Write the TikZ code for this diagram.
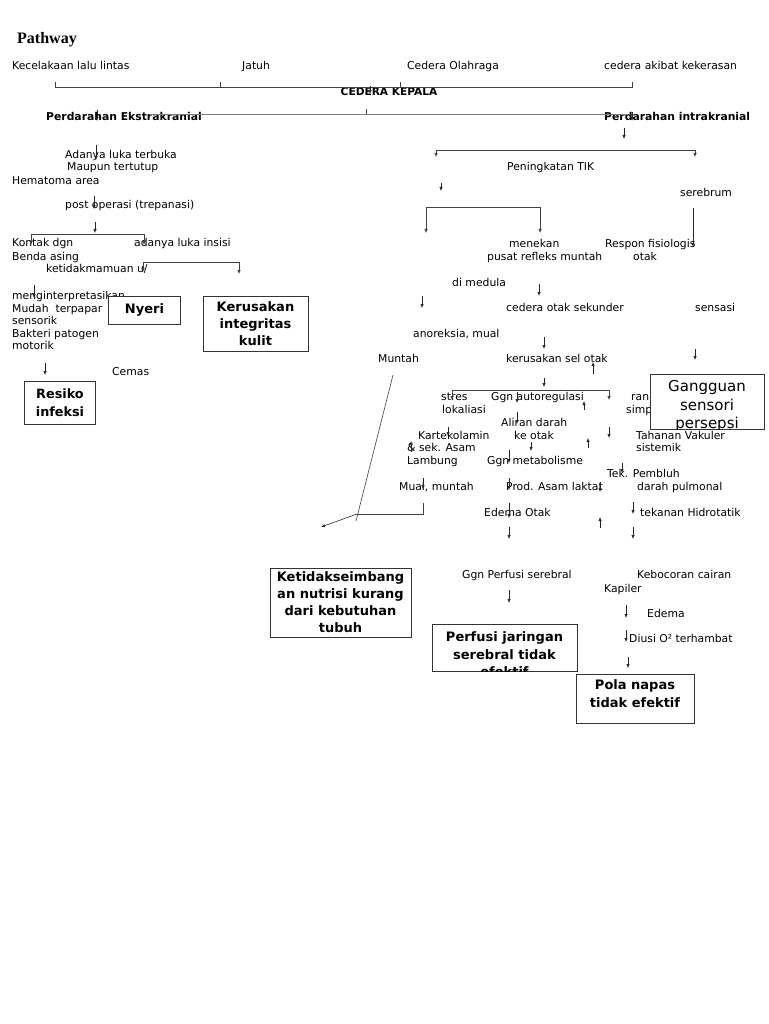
\documentclass[tikz,border=0pt]{standalone}
\usepackage{fontspec}
\setmainfont{DejaVu Sans}
\newfontfamily\titlefont{Liberation Serif}
\usetikzlibrary{arrows.meta}

\begin{document}
\begin{tikzpicture}[x=1pt, y=-1pt,
    txt/.style={anchor=base west, inner sep=0pt, yshift=-4.3pt, font=\fontsize{10.8}{12.5}\selectfont},
    head/.style={txt, font=\fontsize{10.8}{12.5}\selectfont\bfseries},
    box/.style={draw=black!80, line width=0.8pt, fill=white, align=center, inner sep=0pt,
        font=\fontsize{13}{17}\selectfont\bfseries},
    ln/.style={draw=black!75, line width=0.6pt},
    arr/.style={draw=black!85, line width=0.6pt, -{Latex[length=4pt,width=3.4pt]}},
    brk/.style={draw=black!75, line width=0.6pt,
        {Latex[length=4pt,width=3.4pt]}-{Latex[length=4pt,width=3.4pt]}}]
    \path[fill=white] (0,0) rectangle (768,1024);

    % title and causes
    \node[anchor=base west, inner sep=0pt, font=\titlefont\fontsize{16}{18}\selectfont\bfseries] (title) at (17,43.5) {Pathway};
    \node[txt] (kecelakaan) at (12,65) {Kecelakaan lalu lintas};
    \node[txt] (jatuh) at (242,65) {Jatuh};
    \node[txt] (olahraga) at (407,65) {Cedera Olahraga};
    \node[txt] (kekerasan) at (604,65) {cedera akibat kekerasan};
    \node[anchor=base, inner sep=0pt, font=\fontsize{10.6}{12}\selectfont\bfseries] (cedera) at (389,95.5) {CEDERA KEPALA};
    \node[head] (ekstra) at (46,116) {Perdarahan Ekstrakranial};
    \node[head] (intra) at (604,116) {Perdarahan intrakranial};

    % left branch
    \node[txt] (adanya) at (65,154) {Adanya luka terbuka};
    \node[txt] (maupun) at (67,166) {Maupun tertutup};
    \node[txt] (hematoma) at (12,180) {Hematoma area};
    \node[txt] (post) at (65,204) {post operasi (trepanasi)};
    \node[txt] (kontak) at (12,242) {Kontak dgn};
    \node[txt] (insisi) at (134,242) {adanya luka insisi};
    \node[txt] (benda) at (12,256) {Benda asing};
    \node[txt] (ketidak) at (46,268) {ketidakmamuan u/};
    \node[txt] (menginter) at (12,295) {menginterpretasikan};
    \node[txt] (mudah) at (12,308) {Mudah\ \ terpapar};
    \node[txt] (sensorik) at (12,320) {sensorik};
    \node[txt] (bakteri) at (12,333) {Bakteri patogen};
    \node[txt] (motorik) at (12,345) {motorik};
    \node[txt] (cemas) at (112,371) {Cemas};
    \node[box, minimum width=72, minimum height=28] (nyeri) at (144.5,310) {Nyeri};
    \node[box, minimum width=105, minimum height=55] (kulit) at (255.5,323.5) {Kerusakan\\integritas\\kulit};
    \node[box, minimum width=71, minimum height=43, font=\fontsize{12.8}{18}\selectfont\bfseries] (infeksi) at (60,403) {Resiko\\infeksi};

    % right branch
    \node[txt] (tik) at (507,166) {Peningkatan TIK};
    \node[txt] (serebrum) at (680,192) {serebrum};
    \node[txt] (menekan) at (509,243) {menekan};
    \node[txt] (pusat) at (487,256) {pusat refleks muntah};
    \node[txt] (respon) at (605,243) {Respon fisiologis};
    \node[txt] (otak) at (633,256) {otak};
    \node[txt] (medula) at (452,282) {di medula};
    \node[txt] (sekunder) at (506,307) {cedera otak sekunder};
    \node[txt] (sensasi) at (695,307) {sensasi};
    \node[txt] (anoreksia) at (413,333) {anoreksia, mual};
    \node[txt] (muntah) at (378,358) {Muntah};
    \node[txt] (selotak) at (506,358) {kerusakan sel otak};
    \node[txt] (stres) at (441,396) {stres};
    \node[txt] (lokaliasi) at (442,409) {lokaliasi};
    \node[txt] (autoreg) at (491,396) {Ggn autoregulasi};
    \node[txt] (ran) at (631,396) {ran};
    \node[txt] (simp) at (626,409) {simp};
    \node[txt] (aliran) at (501,422) {Aliran darah};
    \node[txt] (keotak) at (514,435) {ke otak};
    \node[txt] (karte) at (418,435) {Kartekolamin};
    \node[txt] (sekasam) at (407,447) {\& sek. Asam};
    \node[txt] (lambung) at (407,460) {Lambung};
    \node[txt] (tahanan) at (636,435) {Tahanan Vakuler};
    \node[txt] (sistemik) at (636,447) {sistemik};
    \node[txt] (metab) at (487,460) {Ggn metabolisme};
    \node[txt] (pembluh) at (607,473) {Tek. Pembluh};
    \node[txt] (pulmonal) at (637,486) {darah pulmonal};
    \node[txt] (mual) at (399,486) {Mual, muntah};
    \node[txt] (laktat) at (506,486) {Prod. Asam laktat};
    \node[txt] (edemaotak) at (484,512) {Edema Otak};
    \node[txt] (hidro) at (640,512) {tekanan Hidrotatik};
    \node[txt] (perfusiser) at (462,574) {Ggn Perfusi serebral};
    \node[txt] (kebocoran) at (637,574) {Kebocoran cairan};
    \node[txt] (kapiler) at (604,588) {Kapiler};
    \node[txt] (edema) at (647,613) {Edema};
    \node[txt] (diusi) at (629,638) {Diusi O² terhambat};
    \node[box, minimum width=141, minimum height=69] (nutrisi) at (340.5,602.5) {Ketidakseimbang\\an nutrisi kurang\\dari kebutuhan\\tubuh};
    \node[box, minimum width=118, minimum height=49, anchor=north] (pola) at (635,674) {};
    \node[anchor=base, inner sep=0pt, align=center, font=\fontsize{13}{18}\selectfont\bfseries] (polatxt) at (635,707.5) {Pola napas\\tidak efektif};

    % boxes whose last line is cut off
    \node[box, minimum width=114, minimum height=55] (gangguan) at (707,401.5) {};
    \begin{scope}
        \clip (gangguan.south west) rectangle (gangguan.north east);
        \node[anchor=base, inner sep=0pt, align=center, font=\fontsize{15}{18.5}\selectfont] (gangtxt) at (707,428.5) {Gangguan\\sensori\\persepsi};
    \end{scope}
    \node[box, minimum width=145, minimum height=47] (perfusi) at (504.5,647.5) {};
    \begin{scope}
        \clip (perfusi.south west) rectangle (perfusi.north east);
        \node[anchor=base, inner sep=0pt, align=center, font=\fontsize{13}{17.5}\selectfont\bfseries] (perftxt) at (504.5,676.5) {Perfusi jaringan\\serebral tidak\\efektif};
    \end{scope}

    % joining lines
    \coordinate (t1) at (55,82);  \coordinate (t1b) at (55,87);
    \coordinate (t2) at (220,82); \coordinate (t2b) at (220,87);
    \coordinate (t3) at (400,82); \coordinate (t3b) at (400,87);
    \coordinate (t4) at (632,82); \coordinate (t4b) at (632,87);
    \draw[ln] (t1) -- (t1b) -- (t4b) -- (t4);
    \draw[ln] (t2) -- (t2b);
    \draw[ln] (t3) -- (t3b);
    \coordinate (p1) at (150,114); \coordinate (p2) at (628,114);
    \coordinate (q1) at (366,109); \coordinate (q2) at (366,114);
    \draw[ln, draw=black!50] (p1) -- (p2);
    \draw[ln] (q1) -- (q2);

    % brackets with arrows at both ends
    \foreach \n/\xa/\xb/\y/\ya/\yb in {r1/436/695/150/157/157, l1/31/144/234/245/245,
        l2/143/239/262/272/274, r2/426/540/207/233/233, r3/452/609/390/400/400} {
        \coordinate (\n a) at (\xa,\ya); \coordinate (\n b) at (\xa,\y);
        \coordinate (\n c) at (\xb,\y);  \coordinate (\n d) at (\xb,\yb);
        \draw[brk] (\n a) -- (\n b) -- (\n c) -- (\n d);
    }

    % short arrows
    \foreach \n/\x/\ya/\yb in {1/370/86/94, 2/97/110/121, 3/632/112/121, 4/624/128/139,
        5/441/183/191, 6/96/145/160, 7/94/196/209, 8/95/222/233, 9/34/285/298,
        10/45/363/375, 11/693/208/247, 12/539/284/296, 13/422/296/308, 14/544/337/349,
        15/695/349/360, 16/593/374/362, 17/544/378/387, 18/517/392/403, 19/584/410/401,
        20/517/412/424, 21/609/427/438, 22/448/427/436, 23/411/452/441, 24/588/448/438,
        25/531/442/451, 26/509/450/463, 27/622/463/473, 28/423/478/489, 29/509/478/490,
        30/600/482/492, 31/509/503/518, 32/633/502/514, 33/600/528/517, 34/509/527/539,
        35/633/527/539, 36/509/590/603, 37/626/605/618, 38/626/630/642, 39/628/657/668} {
        \coordinate (s\n) at (\x,\ya); \coordinate (e\n) at (\x,\yb);
        \draw[arr] (s\n) -- (e\n);
    }

    % Muntah to nutrisi
    \coordinate (m1) at (393,375); \coordinate (m2) at (356,521);
    \coordinate (h1) at (357,514); \coordinate (h2) at (423,514); \coordinate (h3) at (423,503);
    \coordinate (m3) at (321,527);
    \draw[ln] (m1) -- (m2);
    \draw[ln] (h3) -- (h2) -- (h1);
    \draw[arr] (h1) -- (m3);
\end{tikzpicture}
\end{document}
